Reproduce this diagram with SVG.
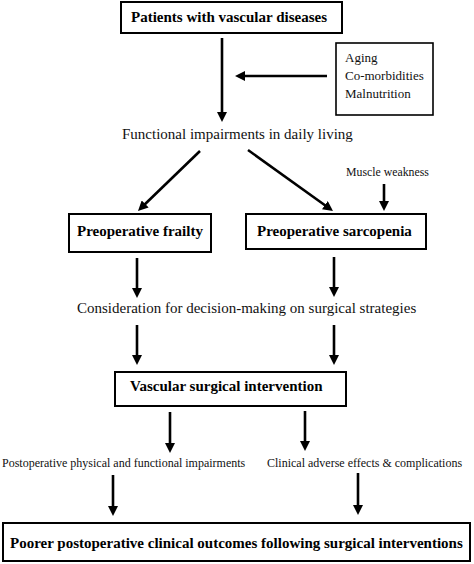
<svg xmlns="http://www.w3.org/2000/svg" width="474" height="564" viewBox="0 0 474 564">
<style>
.box{fill:#fff;stroke:#000;stroke-width:2}
.thin{fill:#fff;stroke:#000;stroke-width:1.6}
.b{font-family:"Liberation Serif","Times New Roman",serif;font-weight:bold;font-size:15px;fill:#000}
.r{font-family:"Liberation Serif","Times New Roman",serif;font-size:15px;fill:#111}
.s{font-family:"Liberation Serif","Times New Roman",serif;font-size:12px;fill:#111}
.c line{stroke:#000;stroke-width:2.6;marker-end:url(#ah)}
</style>
<defs>
<marker id="ah" viewBox="0 0 10 10" refX="4" refY="5" markerWidth="10" markerHeight="10" markerUnits="userSpaceOnUse" orient="auto">
<path d="M0,0 L10,5 L0,10 z" fill="#000"/>
</marker>
</defs>
<rect width="474" height="564" fill="#fff"/>
<g id="connectors" class="c">
<line x1="222" y1="38" x2="222" y2="116"/>
<line x1="327" y1="76" x2="241" y2="76"/>
<line x1="200" y1="151" x2="142.3" y2="206.8"/>
<line x1="248" y1="150" x2="328.1" y2="207.5"/>
<line x1="384" y1="184" x2="384" y2="205"/>
<line x1="137" y1="258" x2="137" y2="292"/>
<line x1="334" y1="257" x2="334" y2="291"/>
<line x1="137" y1="325" x2="137" y2="359"/>
<line x1="334" y1="325" x2="334" y2="359"/>
<line x1="170" y1="412" x2="170" y2="447"/>
<line x1="305" y1="411" x2="305" y2="445"/>
<line x1="113" y1="475" x2="113" y2="510"/>
<line x1="358" y1="473" x2="358" y2="509"/>
</g>
<g id="patients">
<rect class="box" x="121" y="2" width="221" height="31"/>
<text class="b" x="131" y="22">Patients with vascular diseases</text>
</g>
<g id="risk-factors">
<rect class="thin" x="336" y="43" width="97" height="72"/>
<text class="s" x="345" y="62" style="font-size:13px">Aging</text>
<text class="s" x="345" y="80" style="font-size:13px">Co-morbidities</text>
<text class="s" x="345" y="98" style="font-size:13px">Malnutrition</text>
</g>
<g id="functional">
<text class="r" x="122" y="139">Functional impairments in daily living</text>
</g>
<g id="muscle">
<text class="s" x="346" y="176" style="font-size:11.8px">Muscle weakness</text>
</g>
<g id="frailty">
<rect class="box" x="69" y="214" width="142" height="38"/>
<text class="b" x="77" y="236">Preoperative frailty</text>
</g>
<g id="sarcopenia">
<rect class="box" x="246" y="214" width="180" height="35"/>
<text class="b" x="257" y="236">Preoperative sarcopenia</text>
</g>
<g id="consideration">
<text class="r" x="77" y="313">Consideration for decision-making on surgical strategies</text>
</g>
<g id="vascular">
<rect class="box" x="115" y="372" width="231" height="34"/>
<text class="b" x="130" y="391">Vascular surgical intervention</text>
</g>
<g id="postop">
<text class="s" x="2" y="467">Postoperative physical and functional impairments</text>
</g>
<g id="adverse">
<text class="s" x="267" y="467">Clinical adverse effects &amp; complications</text>
</g>
<g id="outcomes">
<rect class="box" x="3" y="523" width="467" height="38"/>
<text class="b" x="10" y="548">Poorer postoperative clinical outcomes following surgical interventions</text>
</g>
</svg>
